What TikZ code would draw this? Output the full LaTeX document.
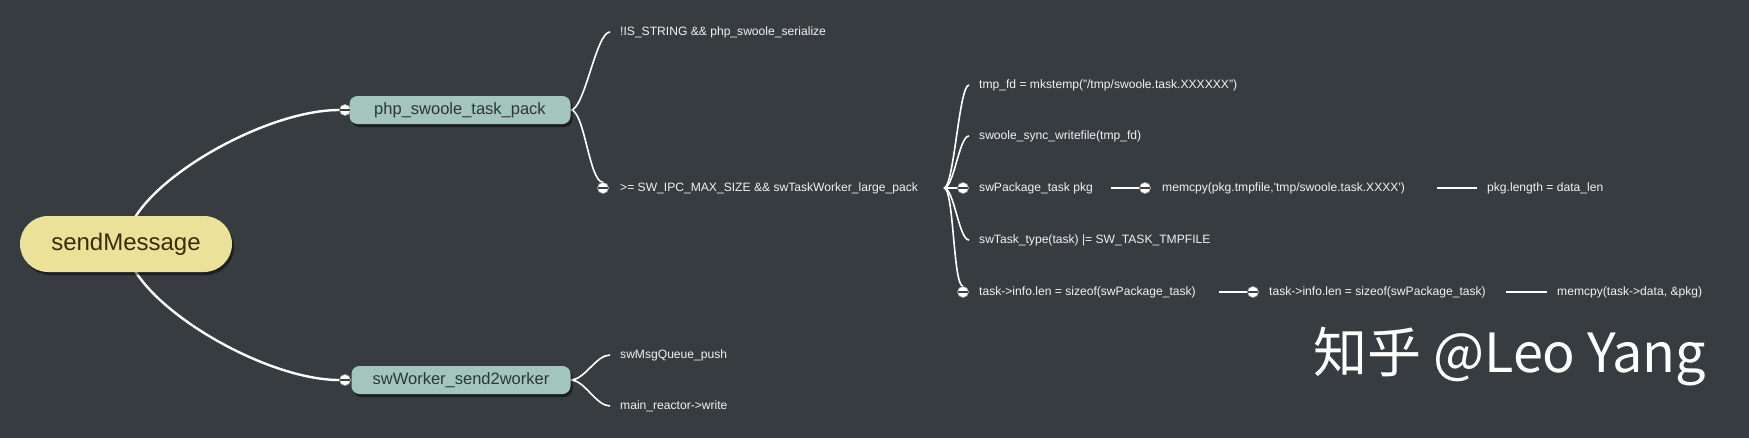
\documentclass[tikz,border=0pt]{standalone}
\usepackage{fontspec}
\setmainfont{Liberation Sans}
\newfontfamily\cjk{Noto Sans CJK SC}
\usetikzlibrary{shadows}

\definecolor{board}{RGB}{54,60,64}
\definecolor{rootfill}{RGB}{236,225,152}
\definecolor{roottext}{RGB}{58,44,6}
\definecolor{topicfill}{RGB}{163,197,189}
\definecolor{topictext}{RGB}{44,54,54}
\definecolor{leaftext}{RGB}{242,242,242}

\pgfdeclarelayer{boardlayer}
\pgfdeclarelayer{links}
\pgfsetlayers{boardlayer,links,main}

\tikzset{
    rootnode/.style={fill=rootfill, text=roottext, rounded corners=28,
        minimum width=212, minimum height=56, font=\fontsize{24}{28}\selectfont,
        drop shadow={shadow xshift=2pt, shadow yshift=-3pt, opacity=0.45, fill=black}},
    topic/.style={fill=topicfill, text=topictext, rounded corners=8,
        minimum height=28, font=\fontsize{16.5}{20}\selectfont,
        drop shadow={shadow xshift=2pt, shadow yshift=-3pt, opacity=0.45, fill=black}},
    leaf/.style={anchor=west, text=leaftext, inner xsep=10, inner ysep=0,
        text height=9pt, text depth=3pt, font=\fontsize{12.1}{14}\selectfont},
    fold/.style={circle, fill=white, draw=black!35, line width=0.6, inner sep=0,
        minimum size=11,
        path picture={\fill[black!75] ([yshift=-1.1pt]path picture bounding box.west)
            rectangle ([yshift=1.1pt]path picture bounding box.east);}},
    trunk/.style={draw=white, line width=2.4},
    twig/.style={draw=white, line width=1.6},
}

\begin{document}
\begin{tikzpicture}[x=1pt, y=-1pt, line cap=round]

    % Board
    \useasboundingbox (0,0) rectangle (1749,437);
    \begin{pgfonlayer}{boardlayer}
        \fill[board] (-6,-6) rectangle (1755,443);
    \end{pgfonlayer}

    % Central topic and main topics
    \node[rootnode] (root) at (126,244) {sendMessage\hspace{12pt}};
    \node[topic, minimum width=221] (pack) at (460,110) {php\_swoole\_task\_pack};
    \node[topic, minimum width=219] (worker) at (461,380) {swWorker\_send2worker};

    % Fold buttons
    \node[fold] (fpack) at (345,110) {};
    \node[fold] (fworker) at (345,380) {};
    \node[fold] (flargepack) at (603,188) {};
    \node[fold] (fpkg) at (963,188) {};
    \node[fold] (fmemcpy) at (1145,188) {};
    \node[fold] (finfo) at (963,292) {};
    \node[fold] (finfotwo) at (1253,292) {};

    % Subtopics of php_swoole_task_pack
    \node[leaf] (serialize) at (610,32) {!IS\_STRING \&\& php\_swoole\_serialize};
    \node[leaf] (largepack) at (610,188) {>= SW\_IPC\_MAX\_SIZE \&\& swTaskWorker\_large\_pack};
    \coordinate (forklarge) at (944,188);

    % Subtopics of the large pack
    \node[leaf] (mkstemp) at (969,85) {tmp\_fd = mkstemp("/tmp/swoole.task.XXXXXX")};
    \node[leaf] (writefile) at (969,136) {swoole\_sync\_writefile(tmp\_fd)};
    \node[leaf] (pkg) at (969,188) {swPackage\_task pkg};
    \node[leaf] (memcpypkg) at (1152,188) {memcpy(pkg.tmpfile,\textquotesingle tmp/swoole.task.XXXX\textquotesingle)};
    \node[leaf] (pkglen) at (1477,188) {pkg.length = data\_len};
    \node[leaf] (tasktype) at (969,240) {swTask\_type(task) |= SW\_TASK\_TMPFILE};
    \node[leaf] (infolen) at (969,292) {task->info.len = sizeof(swPackage\_task)};
    \node[leaf] (infolentwo) at (1259,292) {task->info.len = sizeof(swPackage\_task)};
    \node[leaf] (memcpydata) at (1547,292) {memcpy(task->data, \&pkg)};

    % Subtopics of swWorker_send2worker
    \node[leaf] (msgpush) at (610,355) {swMsgQueue\_push};
    \node[leaf] (reactor) at (610,406) {main\_reactor->write};

    % Watermark
    \node[anchor=base west, inner sep=0, text=white, font=\cjk\fontsize{54}{60}\selectfont]
        (mark) at (1313,372) {知乎 @Leo Yang};

    % Links
    \begin{pgfonlayer}{links}
        \draw[trunk] (root.center) .. controls +(0,-54) and +(-85,0) .. (fpack);
        \draw[trunk] (root.center) .. controls +(0,54) and +(-85,0) .. (fworker);
        \draw[twig] (pack.east) .. controls +(14,0) and +(-14,0) .. (serialize.west);
        \draw[twig] (pack.east) .. controls +(14,0) and +(-14,0) .. (flargepack.north);
        \draw[twig] (worker.east) .. controls +(14,0) and +(-14,0) .. (msgpush.west);
        \draw[twig] (worker.east) .. controls +(14,0) and +(-14,0) .. (reactor.west);
        \draw[twig] (forklarge) .. controls +(10,0) and +(-10,0) .. (mkstemp.west);
        \draw[twig] (forklarge) .. controls +(10,0) and +(-10,0) .. (writefile.west);
        \draw[twig] (forklarge) -- (fpkg);
        \draw[twig] (forklarge) .. controls +(10,0) and +(-10,0) .. (tasktype.west);
        \draw[twig] (forklarge) .. controls +(10,0) and +(-10,0) .. (finfo.north);
        \draw[twig] ([xshift=8]pkg.east) -- (fmemcpy);
        \draw[twig] ([xshift=22]memcpypkg.east) -- (pkglen.west);
        \draw[twig] ([xshift=13]infolen.east) -- (finfotwo);
        \draw[twig] ([xshift=10]infolentwo.east) -- (memcpydata.west);
    \end{pgfonlayer}

\end{tikzpicture}
\end{document}
